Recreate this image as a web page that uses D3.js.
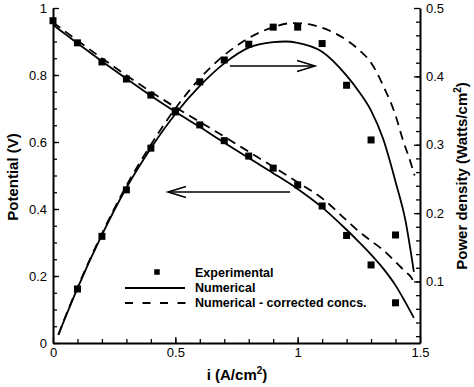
<!DOCTYPE html>
<html><head><meta charset="utf-8">
<script src="https://cdn.jsdelivr.net/npm/d3@7"></script>
<style>
html,body{margin:0;padding:0;background:#fff;}
svg{display:block;font-family:"Liberation Sans",Arial,Helvetica,sans-serif;}
</style></head>
<body><svg id="c" width="474" height="387"></svg>
<script>
// ---- data ----
const expCurrent   = [0,0.1,0.2,0.3,0.4,0.5,0.6,0.7,0.8,0.9,1.0,1.1,1.2,1.3,1.4];
const expPotential = [0.962,0.896,0.839,0.788,0.740,0.693,0.651,0.604,0.558,0.522,0.472,0.409,0.321,0.233,0.120];
const expPowerCurrent = [0.1,0.2,0.3,0.4,0.5,0.6,0.7,0.8,0.9,1.0,1.1,1.2,1.3,1.4];
const expPower     = [0.089,0.166,0.234,0.295,0.348,0.392,0.424,0.447,0.472,0.472,0.448,0.387,0.307,0.168];

const numVCurrent  = [0,0.05,0.1,0.2,0.3,0.4,0.5,0.6,0.7,0.8,0.9,1.0,1.1,1.2,1.25,1.3,1.35,1.4,1.44,1.475];
const numV         = [0.950,0.922,0.895,0.841,0.789,0.738,0.690,0.645,0.598,0.552,0.507,0.460,0.405,0.338,0.302,0.264,0.222,0.172,0.122,0.075];
const corVCurrent  = [0,0.1,0.2,0.3,0.4,0.5,0.6,0.7,0.8,0.9,1.0,1.1,1.2,1.25,1.3,1.35,1.4,1.44,1.467,1.475];
const corV         = [0.957,0.903,0.850,0.799,0.750,0.704,0.660,0.616,0.571,0.526,0.480,0.432,0.366,0.333,0.305,0.277,0.242,0.213,0.193,0.180];

const numPCurrent  = [0.022,0.05,0.1,0.2,0.3,0.4,0.5,0.6,0.7,0.8,0.9,0.95,1.0,1.1,1.2,1.25,1.3,1.35,1.4,1.44,1.475];
const numP         = [0.022,0.047,0.090,0.168,0.237,0.295,0.345,0.386,0.419,0.442,0.450,0.451,0.449,0.436,0.401,0.378,0.350,0.308,0.246,0.190,0.114];
const corPCurrent  = [0.022,0.05,0.1,0.2,0.3,0.4,0.5,0.6,0.7,0.8,0.9,0.98,1.05,1.1,1.2,1.25,1.3,1.35,1.4,1.43,1.46,1.478];
const corP         = [0.022,0.048,0.091,0.170,0.240,0.300,0.353,0.397,0.431,0.456,0.472,0.478,0.476,0.471,0.453,0.439,0.420,0.386,0.343,0.307,0.276,0.255];

const xTicks = [0,0.5,1,1.5],           xTickLabels = ["0","0.5","1","1.5"];
const yLTicks = [0,0.2,0.4,0.6,0.8,1],  yLTickLabels = ["0","0.2","0.4","0.6","0.8","1"];
const yRTicks = [0.1,0.2,0.3,0.4,0.5],  yRTickLabels = ["0.1","0.2","0.3","0.4","0.5"];
const xMinor  = d3.range(1,15).map(k=>k/10);
const yLMinor = d3.range(1,20).map(k=>k/20);
const yRMinor = d3.range(1,25).map(k=>k/50);

const legendLabels = ["Experimental","Numerical","Numerical - corrected concs."];
// arrows: [from current, to current, potential level]
const arrowsData = [[0.723,1.071,0.827],[0.969,0.47,0.451]];

// ---- drawing ----
const svg = d3.select("#c");
const x  = d3.scaleLinear([0,1.5],[53,420]);
const yL = d3.scaleLinear([0,1],[343,8]);
const yR = d3.scaleLinear([0.01,0.5],[343,8]);

const fsTick = 13;
function styleAxis(g){
  g.selectAll("path.domain").attr("stroke","#000").attr("stroke-width",2);
  g.selectAll(".tick line").attr("stroke","#000").attr("stroke-width",1.3);
  g.selectAll(".tick text").attr("font-size",fsTick).attr("fill","#000").attr("font-family","Liberation Sans, Arial, sans-serif");
}
// minor ticks
svg.append("g").attr("transform","translate(0,343)")
  .call(d3.axisBottom(x).tickValues(xMinor).tickSize(-4).tickFormat(""))
  .call(g=>g.select(".domain").remove()).call(styleAxis);
svg.append("g").attr("transform","translate(53,0)")
  .call(d3.axisLeft(yL).tickValues(yLMinor).tickSize(-4).tickFormat(""))
  .call(g=>g.select(".domain").remove()).call(styleAxis);
svg.append("g").attr("transform","translate(420,0)")
  .call(d3.axisRight(yR).tickValues(yRMinor).tickSize(-4).tickFormat(""))
  .call(g=>g.select(".domain").remove()).call(styleAxis);
// major axes
svg.append("g").attr("transform","translate(0,343)")
  .call(d3.axisBottom(x).tickValues(xTicks).tickSizeInner(-6).tickSizeOuter(0).tickPadding(5)
    .tickFormat((d,i)=>xTickLabels[i])).call(styleAxis);
svg.append("g").attr("transform","translate(53,0)")
  .call(d3.axisLeft(yL).tickValues(yLTicks).tickSizeInner(-6).tickSizeOuter(0).tickPadding(6)
    .tickFormat((d,i)=>yLTickLabels[i])).call(styleAxis);
svg.append("g").attr("transform","translate(420,0)")
  .call(d3.axisRight(yR).tickValues(yRTicks).tickSizeInner(-6).tickSizeOuter(0).tickPadding(6)
    .tickFormat((d,i)=>yRTickLabels[i])).call(styleAxis);

// curves
function drawCurve(xs, ys, yScale, dashed){
  const pts = xs.map((v,i)=>[v,ys[i]]);
  svg.append("path").datum(pts)
    .attr("fill","none").attr("stroke","#000").attr("stroke-width",1.8)
    .attr("stroke-dasharray", dashed ? "9,6" : null)
    .attr("d", d3.line().x(d=>x(d[0])).y(d=>yScale(d[1])).curve(d3.curveMonotoneX));
}
drawCurve(numVCurrent, numV, yL, false);
drawCurve(corVCurrent, corV, yL, true);
drawCurve(numPCurrent, numP, yR, false);
drawCurve(corPCurrent, corP, yR, true);

// experimental squares
const sq = 7;
svg.append("g").selectAll("rect").data(expCurrent.map((v,i)=>[v,expPotential[i]])).join("rect")
  .attr("x",d=>x(d[0])-sq/2).attr("y",d=>yL(d[1])-sq/2).attr("width",sq).attr("height",sq).attr("fill","#000");
svg.append("g").selectAll("rect").data(expPowerCurrent.map((v,i)=>[v,expPower[i]])).join("rect")
  .attr("x",d=>x(d[0])-sq/2).attr("y",d=>yR(d[1])-sq/2).attr("width",sq).attr("height",sq).attr("fill","#000");

// arrows
arrowsData.forEach(([a,b,v])=>{
  const x0=x(a), x1=x(b), yy=yL(v), dir = Math.sign(x1-x0);
  svg.append("line").attr("x1",x0).attr("x2",x1).attr("y1",yy).attr("y2",yy)
    .attr("stroke","#000").attr("stroke-width",1.5);
  svg.append("path").attr("d",`M${x1-dir*18},${yy-5.5}L${x1},${yy}L${x1-dir*18},${yy+5.5}`)
    .attr("fill","none").attr("stroke","#000").attr("stroke-width",1.5);
});

// legend
const lg = svg.append("g");
lg.append("rect").attr("x",157-2.75).attr("y",272-2.75).attr("width",5.5).attr("height",5.5).attr("fill","#000");
lg.append("line").attr("x1",125).attr("x2",185).attr("y1",288).attr("y2",288).attr("stroke","#000").attr("stroke-width",1.8);
lg.append("line").attr("x1",125).attr("x2",185.5).attr("y1",303).attr("y2",303).attr("stroke","#000").attr("stroke-width",1.8).attr("stroke-dasharray","8,9.5");
lg.selectAll("text").data(legendLabels).join("text")
  .attr("x",195).attr("y",(d,i)=>276.5+i*15.3)
  .attr("font-size",12.5).attr("font-weight","bold").text(d=>d);

// axis titles
svg.append("text").attr("transform","translate(18,177) rotate(-90)").attr("text-anchor","middle")
  .attr("font-size",15).attr("font-weight","bold").text("Potential (V)");
const rt = svg.append("text").attr("transform","translate(467,176) rotate(-90)").attr("text-anchor","middle")
  .attr("font-size",15).attr("font-weight","bold");
rt.append("tspan").text("Power density (Watts/cm");
rt.append("tspan").attr("font-size",10).attr("dy",-6).text("2");
rt.append("tspan").attr("dy",6).text(")");
const bt = svg.append("text").attr("x",237).attr("y",380).attr("text-anchor","middle")
  .attr("font-size",15).attr("font-weight","bold");
bt.append("tspan").text("i (A/cm");
bt.append("tspan").attr("font-size",10).attr("dy",-6).text("2");
bt.append("tspan").attr("dy",6).text(")");
</script></body></html>
